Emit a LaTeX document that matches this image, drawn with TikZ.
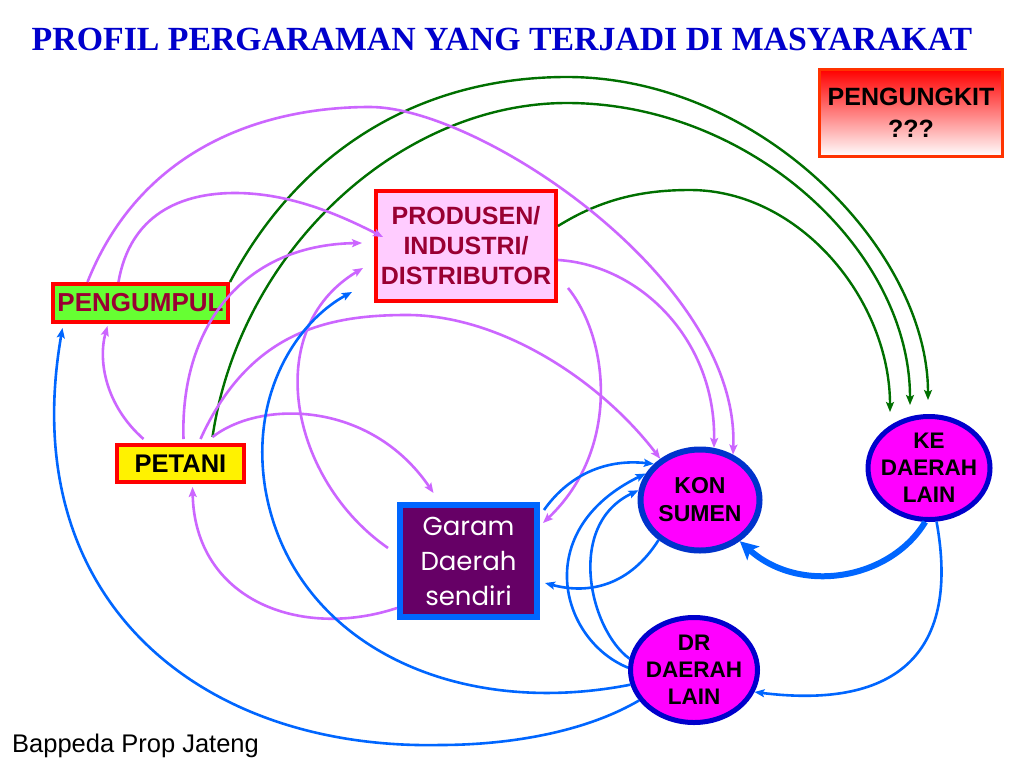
\documentclass[tikz,border=0pt]{standalone}
\usepackage{fontspec}
\setmainfont{Liberation Sans}
\newfontfamily\titlefont{Liberation Serif}
\newfontfamily\garamfont{Poppins}
\usetikzlibrary{shapes.geometric,arrows.meta}

\definecolor{violetline}{RGB}{204,102,255}
\definecolor{blueline}{RGB}{0,102,255}
\definecolor{greenline}{RGB}{0,112,0}
\definecolor{titleblue}{RGB}{0,0,204}
\definecolor{darkred}{RGB}{153,0,51}
\definecolor{pinkfill}{RGB}{255,204,255}
\definecolor{limefill}{RGB}{102,255,51}
\definecolor{plumfill}{RGB}{102,0,102}
\definecolor{ringblue}{RGB}{0,0,204}
\definecolor{konsumenblue}{RGB}{0,51,204}
\definecolor{magentafill}{RGB}{255,0,255}
\definecolor{orangered}{RGB}{255,51,0}

\begin{document}
\begin{tikzpicture}[
  x=1pt, y=-1pt,
  box/.style={draw=red, line width=4pt, inner sep=0pt, align=center,
    font=\bfseries\fontsize{25}{30}\selectfont},
  oval/.style={ellipse, draw=ringblue, line width=5pt, fill=magentafill,
    inner xsep=-6pt, inner ysep=0pt, align=center,
    font=\bfseries\fontsize{22.5}{27}\selectfont},
  flow/.style={line width=2.6pt, -{Stealth[length=10pt,width=8pt,inset=2pt]}},
  violetedge/.style={flow, draw=violetline},
  greenedge/.style={flow, draw=greenline, line width=2.4pt},
  blueedge/.style={flow, draw=blueline}
]
\fill[white] (0,0) rectangle (1024,768);
\useasboundingbox (0,0) rectangle (1024,768);

% Title and footer
\node[anchor=base, inner sep=0pt, text=titleblue,
  font=\titlefont\bfseries\fontsize{33.8}{40}\selectfont] (title) at (502,51)
  {PROFIL PERGARAMAN YANG TERJADI DI MASYARAKAT};
\node[anchor=base west, inner sep=0pt, font=\fontsize{25.5}{30}\selectfont] (bappeda) at (12,752)
  {Bappeda Prop Jateng};

% Boxes
\node[box, draw=orangered, line width=3pt, minimum width=183pt, minimum height=87pt,
  top color=red, bottom color=white, font=\bfseries\fontsize{25}{32}\selectfont]
  (pengungkit) at (911,113) {PENGUNGKIT\\???};
\node[box, fill=pinkfill, text=darkred, minimum width=180pt, minimum height=110pt]
  (produsen) at (466,246) {PRODUSEN/\\INDUSTRI/\\DISTRIBUTOR};
\node[box, fill=limefill, text=darkred, minimum width=175pt, minimum height=38pt,
  font=\bfseries\fontsize{26}{30}\selectfont] (pengumpul) at (140.5,303) {PENGUMPUL};
\node[box, fill=yellow, minimum width=127pt, minimum height=37pt,
  font=\bfseries\fontsize{25.5}{30}\selectfont] (petani) at (180.5,463.5) {PETANI};
\node[box, draw=blueline, line width=6pt, fill=plumfill, text=white,
  minimum width=137pt, minimum height=112pt, font=\garamfont\fontsize{26}{35}\selectfont]
  (garam) at (468.5,561) {Garam\\Daerah\\sendiri};

% Ovals
\node[oval, draw=konsumenblue, line width=6pt, minimum width=119pt, minimum height=101pt,
  font=\bfseries\fontsize{23}{28}\selectfont] (konsumen) at (700,500) {KON\\SUMEN};
\node[oval, minimum width=122pt, minimum height=103pt] (kedaerah) at (929,468) {KE\\DAERAH\\LAIN};
\node[oval, minimum width=127pt, minimum height=105pt] (drdaerah) at (694,670) {DR\\DAERAH\\LAIN};

% Green: out to other regions
\draw[greenedge] (pengumpul.north east) .. controls (300,150) and (420,77) .. (567,77)
  .. controls (760,77) and (928,250) .. ([xshift=-1pt,yshift=14pt]kedaerah.north);
\draw[greenedge] ([xshift=32pt,yshift=6pt]petani.north) .. controls (240,250) and (400,103) .. (567,103)
  .. controls (750,103) and (910,250) .. ([xshift=-19pt,yshift=9pt]kedaerah.north);
\draw[greenedge] ([yshift=20pt]produsen.east) .. controls (600,200) and (640,190) .. (690,190)
  .. controls (800,190) and (890,300) .. ([xshift=-39pt,yshift=2pt]kedaerah.north);

% Violet flows
\draw[violetedge] ([xshift=-53pt]pengumpul.north) .. controls (140,150) and (260,107) .. (370,107)
  .. controls (480,107) and (740,280) .. (konsumen.54);
\draw[violetedge] ([xshift=-22pt]pengumpul.north) .. controls (130,215) and (180,193) .. (235,193)
  .. controls (290,193) and (340,215) .. ([xshift=9pt,yshift=9pt]produsen.west);
\draw[violetedge] ([xshift=-37pt,yshift=4pt]petani.north) .. controls (105,405) and (98,360)
  .. ([xshift=-33pt,yshift=-2pt]pengumpul.south);
\draw[violetedge] ([xshift=3pt,yshift=4pt]petani.north) .. controls (180,330) and (240,245)
  .. ([xshift=-12pt,yshift=3pt]produsen.west);
\draw[violetedge] ([xshift=20pt,yshift=4pt]petani.north) .. controls (250,330) and (330,315) .. (407,315)
  .. controls (500,315) and (600,380) .. (konsumen.134);
\draw[violetedge] ([xshift=32pt,yshift=6pt]petani.north) .. controls (260,400) and (370,400)
  .. ([xshift=-35pt,yshift=9pt]garam.north);
\draw[violetedge] ([xshift=-9pt,yshift=13pt]garam.west) .. controls (290,480) and (260,330)
  .. ([xshift=-11pt,yshift=-22pt]produsen.west);
\draw[violetedge] ([yshift=-47pt]garam.west) .. controls (300,640) and (195,600)
  .. ([xshift=12pt,yshift=-3pt]petani.south);
\draw[violetedge] ([xshift=10pt,yshift=15pt]produsen.south east) .. controls (610,340) and (620,450)
  .. ([xshift=3pt,yshift=38pt]garam.east);
\draw[violetedge] ([yshift=-14pt]produsen.east) .. controls (640,265) and (716,340) .. (konsumen.75);

% Blue flows
\draw[blueedge] (drdaerah.209) .. controls (580,735) and (500,745) .. (440,745)
  .. controls (200,750) and (15,600) .. ([xshift=-78pt,yshift=-4pt]pengumpul.south);
\draw[blueedge] (drdaerah.193) .. controls (450,720) and (290,640) .. (265,487)
  .. controls (250,390) and (300,320) .. ([xshift=-22pt,yshift=-46pt]produsen.west);
\draw[blueedge] ([xshift=4pt,yshift=-8pt]garam.north east) .. controls (565,480) and (600,458) .. (konsumen.142);
\draw[blueedge] (konsumen.224) .. controls (630,585) and (590,595) .. ([xshift=5pt,yshift=-22pt]garam.east);
\draw[blueedge] (drdaerah.178) .. controls (560,640) and (530,530) .. (konsumen.154);
\draw[blueedge] (drdaerah.170) .. controls (590,630) and (565,525) .. (konsumen.171);
\draw[blueedge, line width=6pt, -{Stealth[length=18pt,width=18pt,inset=4pt]}]
  (kedaerah.266) .. controls (890,580) and (800,595) .. (konsumen.314);
\draw[blueedge] (kedaerah.278) .. controls (960,650) and (900,710) .. (drdaerah.340);
\end{tikzpicture}
\end{document}
